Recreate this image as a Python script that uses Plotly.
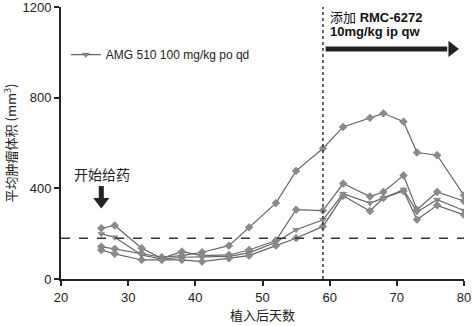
import plotly.graph_objects as go

days = [26, 28, 32, 35, 38, 41, 45, 48, 52, 55, 59, 62, 66, 68, 71, 73, 76, 80]
series_a = [143, 133, 113, 96, 103, 118, 147, 228, 335, 477, 576, 671, 711, 731, 694, 558, 546, 369]
series_b = [224, 236, 136, 91, 121, 103, 106, 128, 170, 306, 302, 421, 364, 384, 457, 306, 384, 344]
series_c = [199, 184, 106, 88, 96, 97, 100, 115, 162, 217, 261, 376, 335, 357, 394, 296, 350, 302]
series_d = [128, 111, 84, 84, 84, 77, 91, 103, 147, 180, 232, 367, 300, 357, 388, 262, 325, 283]

x_ticks = [20, 30, 40, 50, 60, 70, 80]
y_ticks = [0, 400, 800, 1200]
threshold = 180
start_day = 59

legend_name = "AMG 510 100 mg/kg po qd"
line_col = "#666666"
mark_col = "#8a8a8a"
dark = "#222222"
cjk = "Noto Sans CJK SC"

fig = go.Figure()
for i, (s, sym) in enumerate([(series_c, "triangle-down"), (series_a, "diamond"),
                              (series_b, "diamond"), (series_d, "diamond")]):
    fig.add_trace(go.Scatter(
        x=days, y=s, mode="lines+markers", name=legend_name,
        showlegend=(i == 0),
        line=dict(color=line_col, width=1.2),
        marker=dict(symbol=sym, size=6, color=mark_col,
                    line=dict(color="#777", width=0.5)),
    ))

# reference lines
fig.add_shape(type="line", xref="x", yref="y", x0=20, x1=80, y0=threshold, y1=threshold,
              line=dict(color="#333", width=1.5, dash="dash"))
fig.add_shape(type="line", xref="x", yref="y", x0=start_day, x1=start_day, y0=0, y1=1200,
              line=dict(color="#333", width=1.5, dash="dot"))

# "start dosing" arrow (body + head)
fig.add_shape(type="line", xref="x", yref="y", x0=26, x1=26, y0=410, y1=350,
              line=dict(color=dark, width=5))
fig.add_trace(go.Scatter(x=[26], y=[342], mode="markers", showlegend=False, hoverinfo="skip",
                         marker=dict(symbol="triangle-down", size=14, color=dark)))
fig.add_annotation(x=26.1, y=462, xref="x", yref="y", text="开始给药", showarrow=False,
                   font=dict(family=cjk, size=14, color=dark))

# RMC-6272 arrow (body + head)
fig.add_shape(type="line", xref="x", yref="y", x0=59.4, x1=77.5, y0=1015, y1=1015,
              line=dict(color=dark, width=5))
fig.add_trace(go.Scatter(x=[78.2], y=[1015], mode="markers", showlegend=False, hoverinfo="skip",
                         marker=dict(symbol="triangle-right", size=14, color=dark)))
fig.add_annotation(x=59.7, y=1155, xref="x", yref="y", xanchor="left", yanchor="middle",
                   showarrow=False, text="添加 <b>RMC-6272</b>",
                   font=dict(family="Liberation Sans, " + cjk, size=13, color="#111"))
fig.add_annotation(x=59.7, y=1090, xref="x", yref="y", xanchor="left", yanchor="middle",
                   showarrow=False, text="<b>10mg/kg ip qw</b>",
                   font=dict(family="Liberation Sans", size=13, color="#111"))

fig.update_layout(
    width=474, height=326,
    margin=dict(l=61, r=10, t=7, b=47),
    paper_bgcolor="white", plot_bgcolor="white",
    font=dict(family="Liberation Sans, Arial", size=13, color=dark),
    legend=dict(x=0.012, y=0.825, xanchor="left", yanchor="middle",
                bgcolor="rgba(0,0,0,0)", font=dict(size=12)),
    xaxis=dict(range=[20, 80], tickvals=x_ticks, showgrid=False, zeroline=False,
               showline=True, linecolor=dark, linewidth=2, ticks="outside",
               ticklen=5, tickwidth=2, tickcolor=dark, automargin=False,
               title=dict(text="植入后天数", font=dict(family=cjk, size=13), standoff=2)),
    yaxis=dict(range=[0, 1200], tickvals=y_ticks, showgrid=False, zeroline=False,
               showline=True, linecolor=dark, linewidth=2, ticks="outside",
               ticklen=5, tickwidth=2, tickcolor=dark, automargin=False,
               ticklabeloverflow="allow",
               title=dict(text="平均肿瘤体积 (mm<sup>3</sup>)", font=dict(family=cjk, size=13),
                          standoff=4)),
)

fig.write_html("out.html")
